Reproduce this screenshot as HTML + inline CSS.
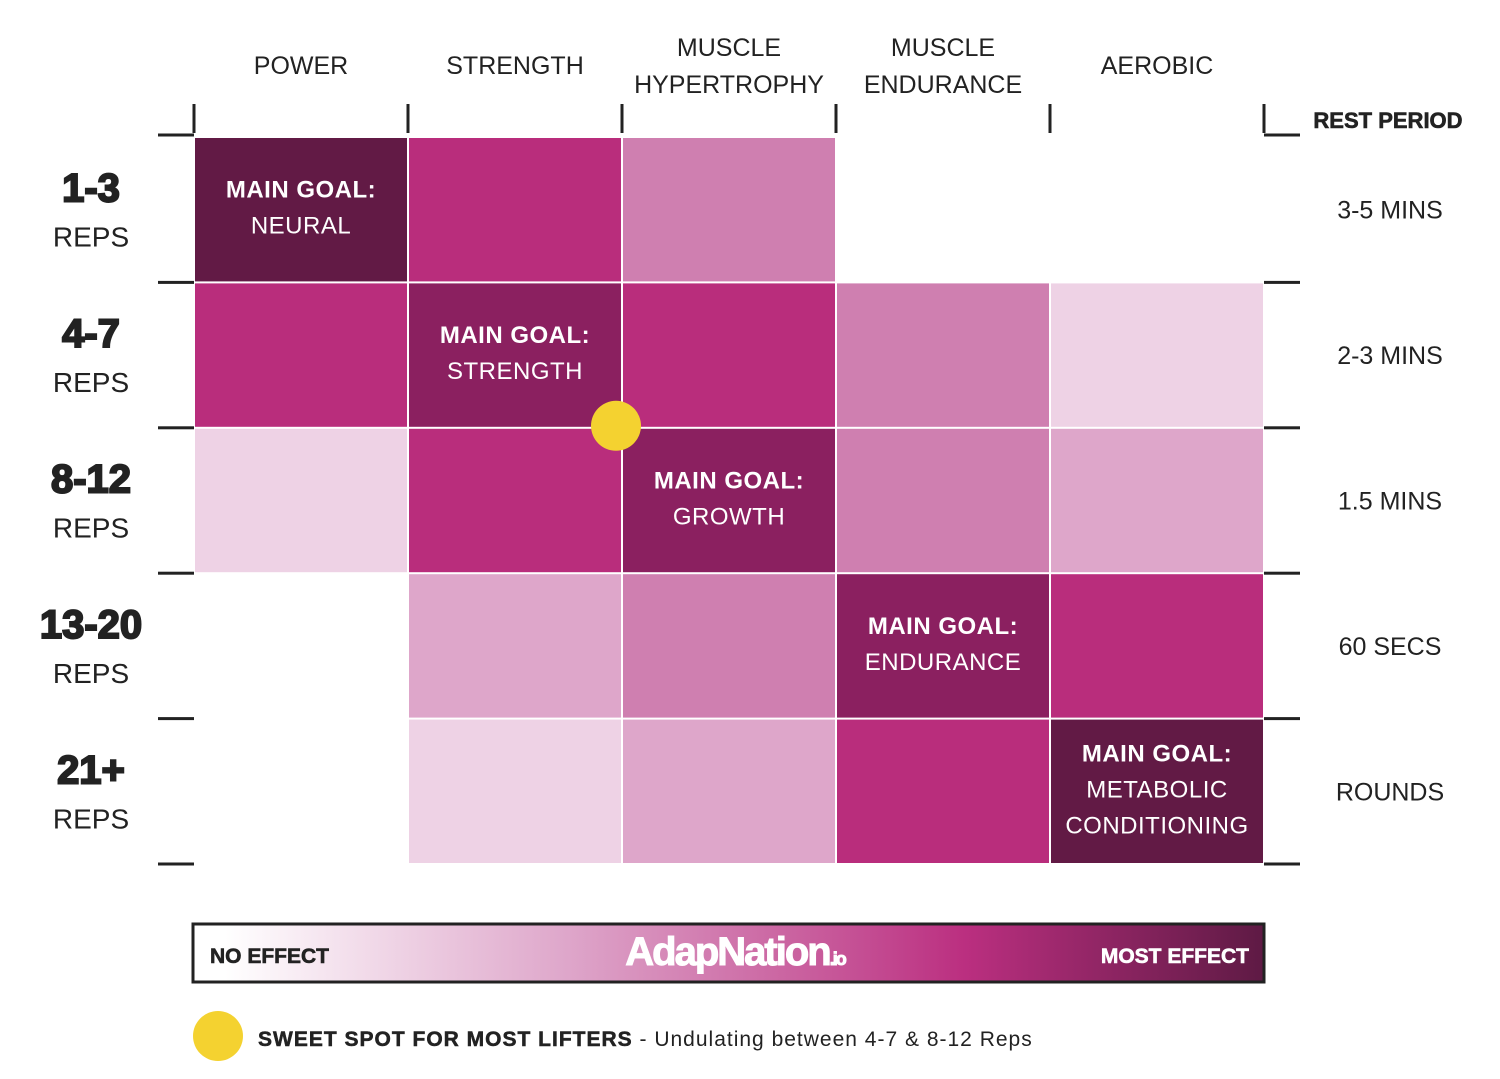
<!DOCTYPE html>
<html><head><meta charset="utf-8"><style>
body{margin:0;background:#fff;width:1500px;height:1074px;overflow:hidden;font-family:"Liberation Sans",sans-serif}
</style></head><body>
<svg id="chart" width="1500" height="1074" xmlns="http://www.w3.org/2000/svg">
<defs><linearGradient id="grad" x1="0" x2="1" y1="0" y2="0">
<stop offset="0.03" stop-color="#ffffff"/><stop offset="0.35" stop-color="#dea6ca"/><stop offset="0.72" stop-color="#bb2f80"/><stop offset="1" stop-color="#5e1a44"/></linearGradient></defs>
<g id="cells"></g><g id="labels"></g>
<g>
<rect x="193" y="924" width="1071" height="58" fill="url(#grad)" stroke="#222" stroke-width="3"/>
<text x="210" y="963" font-size="21" font-weight="bold" fill="#222" stroke="#222" stroke-width="0.6">NO EFFECT</text>
<text x="1249" y="963" font-size="21" font-weight="bold" fill="#fff" text-anchor="end" stroke="#fff" stroke-width="0.6">MOST EFFECT</text>
<text x="735" y="965" font-size="40" font-weight="bold" fill="#fff" text-anchor="middle" letter-spacing="-2" stroke="#fff" stroke-width="1">AdapNation<tspan font-size="18">.io</tspan></text>
</g>
<g>
<circle cx="218" cy="1036" r="25" fill="#f4d230"/>
<text x="258" y="1046" font-size="21" fill="#222" letter-spacing="1"><tspan font-weight="bold" stroke="#222" stroke-width="0.5">SWEET SPOT FOR MOST LIFTERS</tspan> - Undulating between 4-7 &amp; 8-12 Reps</text>
</g>
</svg>
<script>
const columns=["POWER","STRENGTH","MUSCLE|HYPERTROPHY","MUSCLE|ENDURANCE","AEROBIC"];
const rowReps=["1-3","4-7","8-12","13-20","21+"];
const restPeriods=["3-5 MINS","2-3 MINS","1.5 MINS","60 SECS","ROUNDS"];
const levels=[[6,4,3,0,0],[4,5,4,3,1],[1,4,5,3,2],[0,2,3,5,4],[0,1,2,4,6]];
const mainGoals=[["NEURAL"],["STRENGTH"],["GROWTH"],["ENDURANCE"],["METABOLIC","CONDITIONING"]];
const sweetSpot=[2,2];
const palette=["none","#eed2e5","#dea6ca","#cf7fb0","#b92d7c","#8b2060","#621a45"];
const X0=194,CW=214,Y0=137,RH=145.4;
const NS="http://www.w3.org/2000/svg";
const xs=c=>X0+c*CW, ys=r=>Y0+r*RH;
function mk(t,a,p){const e=document.createElementNS(NS,t);for(const k in a)e.setAttribute(k,a[k]);p.appendChild(e);return e;}
const cells=document.getElementById('cells'),lab=document.getElementById('labels');
levels.forEach((row,r)=>row.forEach((v,c)=>{
 if(!v)return;
 const rc=mk('rect',{x:xs(c)+1,y:ys(r)+1,width:CW-2,height:RH-2,fill:palette[v]},cells);
 
 
 if(v>=5){const g=mainGoals[r];const cx=xs(c)+CW/2;const top=ys(r)+RH/2-(g.length+1)*36/2+24;
  const t=mk('text',{x:cx,y:top,'font-size':24,'font-weight':'bold',fill:'#fff','text-anchor':'middle','letter-spacing':0.5},lab);t.textContent='MAIN GOAL:';
  
  
  g.forEach((s,i)=>{const u=mk('text',{x:cx,y:top+36*(i+1),'font-size':24,fill:'#fff','text-anchor':'middle','letter-spacing':0.5},lab);u.textContent=s;
  
  });}
}));
columns.forEach((c,i)=>{const p=c.split('|');const cx=xs(i)+CW/2;
 p.forEach((s,j)=>{const t=mk('text',{x:cx,y:(p.length==1?74:56)+j*37,'font-size':25,fill:'#222','text-anchor':'middle'},lab);t.textContent=s;
 
 });
});
for(let i=0;i<=5;i++){mk('rect',{x:xs(i)-1.5,y:104,width:3,height:29,fill:'#222'},lab);}
for(let r=0;r<=5;r++){const y=ys(r)+(r==0?-2:0);
 mk('rect',{x:158,y:y-1.5,width:36,height:3,fill:'#222'},lab);
 mk('rect',{x:1264,y:y-1.5,width:36,height:3,fill:'#222'},lab);}
rowReps.forEach((s,r)=>{const cy=ys(r)+RH/2;
 const t=mk('text',{x:91,y:cy-8,'font-size':40,'font-weight':'bold',fill:'#222','text-anchor':'middle',stroke:'#222','stroke-width':2},lab);t.textContent=s;
 
 
 const u=mk('text',{x:91,y:cy+37,'font-size':28,fill:'#222','text-anchor':'middle'},lab);u.textContent='REPS';
 
 });
restPeriods.forEach((s,r)=>{const t=mk('text',{x:1390,y:ys(r)+RH/2+9,'font-size':25,fill:'#222','text-anchor':'middle'},lab);t.textContent=s;
 
 });
const rh=mk('text',{x:1388,y:128,'font-size':22,'font-weight':'bold',fill:'#222','text-anchor':'middle',stroke:'#222','stroke-width':0.6},lab);rh.textContent='REST PERIOD';


const dot=mk('circle',{cx:xs(sweetSpot[0])-6,cy:ys(sweetSpot[1])-2,r:25,fill:'#f4d230'},lab);


</script>
</body></html>
